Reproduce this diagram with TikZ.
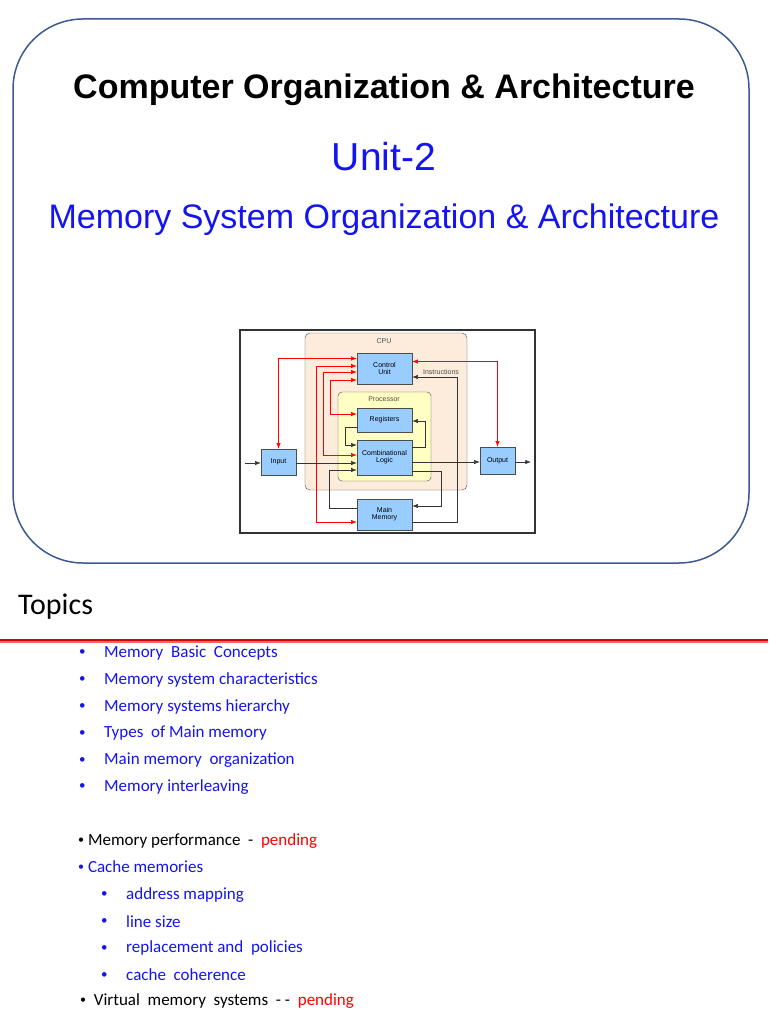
\documentclass[tikz,border=0pt]{standalone}
\usepackage{fontspec}
\setmainfont{Liberation Sans}
\newfontfamily\carl{Carlito}
\usetikzlibrary{arrows.meta, positioning, calc}
\definecolor{frameblue}{RGB}{60,90,145}
\definecolor{boxblue}{RGB}{153,204,255}
\definecolor{cpufill}{RGB}{253,235,220}
\definecolor{procfill}{RGB}{255,255,195}
\definecolor{txtblue}{RGB}{20,20,240}
\newcommand{\ibul}{\raisebox{2pt}{\fontsize{12}{12}\selectfont\textbullet}}
\begin{document}
\begin{tikzpicture}[x=1pt, y=-1pt,
    unit/.style={rectangle, draw=black!70, fill=boxblue, font=\fontsize{7}{7}\selectfont, align=center, inner sep=0pt},
    rdep/.style={-Latex, red, semithick},
    rbi/.style={Latex-Latex, red, semithick},
    bdep/.style={-Latex, black!80, semithick},
    item/.style={anchor=west, font=\carl\fontsize{17}{17}\selectfont, inner sep=0pt}
]
\useasboundingbox (0,0) rectangle (768,1024);

% Title card
\node[draw=frameblue, line width=1.5pt, rounded corners=70pt, minimum width=736pt, minimum height=544pt] (card) at (381,291) {};
\node[font=\bfseries\fontsize{34}{34}\selectfont] (title) at (384,90) {Computer Organization \& Architecture};
\node[font=\fontsize{39}{39}\selectfont, text=txtblue] (unit) at (384,157) {Unit-2};
\node[font=\fontsize{34}{34}\selectfont, text=txtblue] (sub) at (384,220) {Memory System Organization \& Architecture};

% Block diagram
\node[draw=black!80, line width=1.5pt, fill=white, minimum width=295pt, minimum height=203pt] (frame) at (387.5,431.5) {};
\node[draw=black!70, fill=cpufill, rounded corners=5pt, minimum width=162pt, minimum height=157pt] (cpu) at (386,411.5) {};
\node[font=\fontsize{7}{7}\selectfont, text=black!70] (cpulab) at (384,341) {CPU};
\node[draw=black!70, fill=procfill, rounded corners=4pt, minimum width=93pt, minimum height=89pt] (proc) at (384.5,436.5) {};
\node[font=\fontsize{7}{7}\selectfont, text=black!70] (proclab) at (384,399) {Processor};
\node[unit, minimum width=55pt, minimum height=31pt] (cu) at (384.5,368.5) {Control\\Unit};
\node[unit, minimum width=55pt, minimum height=24pt] (reg) at (384.5,420) {Registers};
\node[unit, minimum width=55pt, minimum height=35pt] (cl) at (384.5,457.5) {Combinational\\Logic};
\node[unit, minimum width=35pt, minimum height=26pt] (in) at (278.5,462) {Input};
\node[unit, minimum width=35pt, minimum height=27pt] (out) at (497.5,460.5) {Output};
\node[unit, minimum width=55pt, minimum height=31pt] (mem) at (384.5,514.5) {Main\\Memory};
\node[font=\fontsize{7}{7}\selectfont, text=black!70] (instr) at (441,372) {Instructions};
\coordinate (src) at (245,463);
\coordinate (snk) at (531,462);

% Control lines
\draw[rbi] (in.north) |- ($(cu.west)+(0,-10)$);
\draw[rbi] ($(cu.east)+(0,-7)$) -| (out.north);
\draw[rdep] (316,366) |- (mem.west |- 0,522);
\draw[rdep] (316,366) -- (cu.west |- 0,366);
\draw[rdep] (323,372) |- (cl.west |- 0,455);
\draw[rdep] (323,372) -- (cu.west |- 0,372);
\draw[rdep] (330,380) |- (reg.west |- 0,414);
\draw[rdep] (330,380) -- (cu.west |- 0,380);

% Data lines
\draw[bdep] (reg.west |- 0,427) -- (345,427) |- (cl.west |- 0,445);
\draw[bdep] (cl.east |- 0,447) -- (425,447) |- (reg.east |- 0,421);
\draw[bdep] (src) -- (in.west |- src);
\draw[bdep] (in.east |- 0,463) -- (cl.west |- 0,463);
\draw[bdep] (cl.east |- 0,462) -- (out.west |- 0,462);
\draw[bdep] (out.east |- snk) -- (snk);
\draw[bdep] (mem.west |- 0,508) -- (329,508) |- (cl.west |- 0,470);
\draw[bdep] (cl.east |- 0,471) -- (441,471) |- (mem.east |- 0,506);
\draw[bdep] (mem.east |- 0,522) -- (457,522) |- (cu.east |- 0,377);

% Topics
\node[anchor=west, font=\carl\fontsize{30}{30}\selectfont, inner sep=0pt] (topics) at (18,607) {Topics};
\draw[red!60, line width=3pt] (0,641.5) -- (768,641.5);
\draw[red!85!black, line width=1.2pt] (0,640) -- (768,640);
\foreach \t [count=\i] in {Memory\ \ Basic\ \ Concepts, Memory system characteristics, Memory systems hierarchy, Types\ \ of Main memory, Main memory\ \ organization, Memory interleaving} {
  \node[item, text=txtblue, font=\carl\fontsize{13}{13}\selectfont] (b\i) at (79,{653+26.8*(\i-1)}) {\textbullet};
  \node[item, text=txtblue] (t\i) at (104,{653+26.8*(\i-1)}) {\t};
}
\node[item] (perf) at (78,841) {\ibul\ Memory performance\ \ -\ \ \textcolor{red}{pending}};
\node[item, text=txtblue] (cache) at (78,867) {\ibul\ Cache memories};
\foreach \t [count=\i] in {address mapping, line size, replacement and\ \ policies, cache\ \ coherence} {
  \node[item, text=txtblue, font=\carl\fontsize{13}{13}\selectfont] (sb\i) at (101,{895+26.7*(\i-1)}) {\textbullet};
  \node[item, text=txtblue] (st\i) at (126,{895+26.7*(\i-1)}) {\t};
}
\node[item] (virt) at (80,1001) {\ibul\ \ Virtual\ \ memory\ \ systems\ \ - -\ \ \textcolor{red}{pending}};
\end{tikzpicture}
\end{document}
